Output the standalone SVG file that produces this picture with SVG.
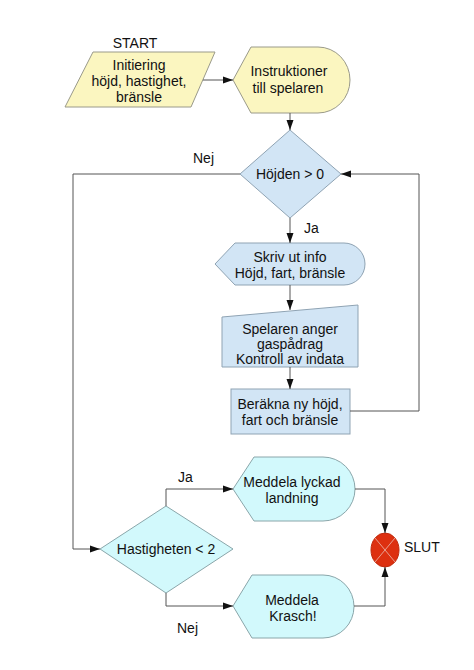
<svg xmlns="http://www.w3.org/2000/svg" width="474" height="670" viewBox="0 0 474 670">
<defs>
<style>
.y{fill:#fbf6c0;stroke:#9a9a8a;stroke-width:1}
.b{fill:#d2e5f5;stroke:#8fa3b3;stroke-width:1}
.c{fill:#d2f9fc;stroke:#8aa6aa;stroke-width:1}
.t{font-family:"Liberation Sans",Arial,sans-serif;font-size:14px;fill:#111;text-anchor:middle}
.l{font-family:"Liberation Sans",Arial,sans-serif;font-size:14px;fill:#111}
.e{fill:none;stroke:#555;stroke-width:1}
</style>
<marker id="a" viewBox="0 0 10 10" refX="10" refY="5" markerWidth="10" markerHeight="10" markerUnits="userSpaceOnUse" orient="auto"><path d="M0,1.5 L10,5 L0,8.5 Z" fill="#111"/></marker>
</defs>
<rect width="474" height="670" fill="#fff"/>
<g id="start"><text class="t" x="135" y="48">START</text></g>
<g id="init"><polygon class="y" points="93,52 215,52 191,107 65,107"/>
<text class="t" x="139" y="70">Initiering</text><text class="t" x="139" y="86">höjd, hastighet,</text><text class="t" x="139" y="102">bränsle</text></g>
<g id="instr"><path class="y" d="M233,80 L251,47 L318,47 A32,33 0 0 1 318,113 L251,113 Z"/>
<text class="t" x="289" y="76">Instruktioner</text><text class="t" x="288" y="93">till spelaren</text></g>
<g id="hojd"><polygon class="b" points="290,130 341,174 290,218 240,174"/>
<text class="t" x="290" y="179">Höjden &gt; 0</text></g>
<g id="skriv"><path class="b" d="M215,264 L235,243 L344,243 A21,21 0 0 1 344,285 L235,285 Z"/>
<text class="t" x="290" y="262">Skriv ut info</text><text class="t" x="290" y="278">Höjd, fart, bränsle</text></g>
<g id="spelaren"><polygon class="b" points="222,317 358,305 358,367 222,367"/>
<text class="t" x="290" y="334">Spelaren anger</text><text class="t" x="290" y="349">gaspådrag</text><text class="t" x="290" y="364">Kontroll av indata</text></g>
<g id="berakna"><rect class="b" x="231" y="389" width="119" height="45"/>
<text class="t" x="290" y="409">Beräkna ny höjd,</text><text class="t" x="290" y="425">fart och bränsle</text></g>
<g id="hast"><polygon class="c" points="166,506 233,549 166,593 100,549"/>
<text class="t" x="166" y="554">Hastigheten &lt; 2</text></g>
<g id="lyckad"><path class="c" d="M233,489 L254,457 L323,457 A32,32 0 0 1 323,521 L254,521 Z"/>
<text class="t" x="292" y="487">Meddela lyckad</text><text class="t" x="292" y="503">landning</text></g>
<g id="krasch"><path class="c" d="M233,606 L252,575 L323,575 A31,31.5 0 0 1 323,638 L252,638 Z"/>
<text class="t" x="292" y="605">Meddela</text><text class="t" x="293" y="621">Krasch!</text></g>
<g id="slut"><ellipse cx="385" cy="550" rx="14" ry="17" fill="#dd3010" stroke="#c02a0c"/>
<path d="M375,538 L395,562 M395,538 L375,562" stroke="#e8a090" stroke-width="1" fill="none"/>
<text class="l" x="404" y="552">SLUT</text></g>
<g id="connectors">
<path class="e" d="M203,80 H233" marker-end="url(#a)"/>
<path class="e" d="M290,113 V130" marker-end="url(#a)"/>
<path class="e" d="M290,218 V243" marker-end="url(#a)"/>
<path class="e" d="M290,285 V310" marker-end="url(#a)"/>
<path class="e" d="M290,367 V389" marker-end="url(#a)"/>
<path class="e" d="M350,411 H419 V174 H341" marker-end="url(#a)"/>
<path class="e" d="M240,174 H73 V549 H100" marker-end="url(#a)"/>
<path class="e" d="M166,506 V489 H233" marker-end="url(#a)"/>
<path class="e" d="M166,593 V606 H233" marker-end="url(#a)"/>
<path class="e" d="M355,489 H385 V533" marker-end="url(#a)"/>
<path class="e" d="M354,606 H385 V567" marker-end="url(#a)"/>
<text class="l" x="193" y="163">Nej</text>
<text class="l" x="304" y="233">Ja</text>
<text class="l" x="178" y="482">Ja</text>
<text class="l" x="177" y="633">Nej</text>
</g>
</svg>
